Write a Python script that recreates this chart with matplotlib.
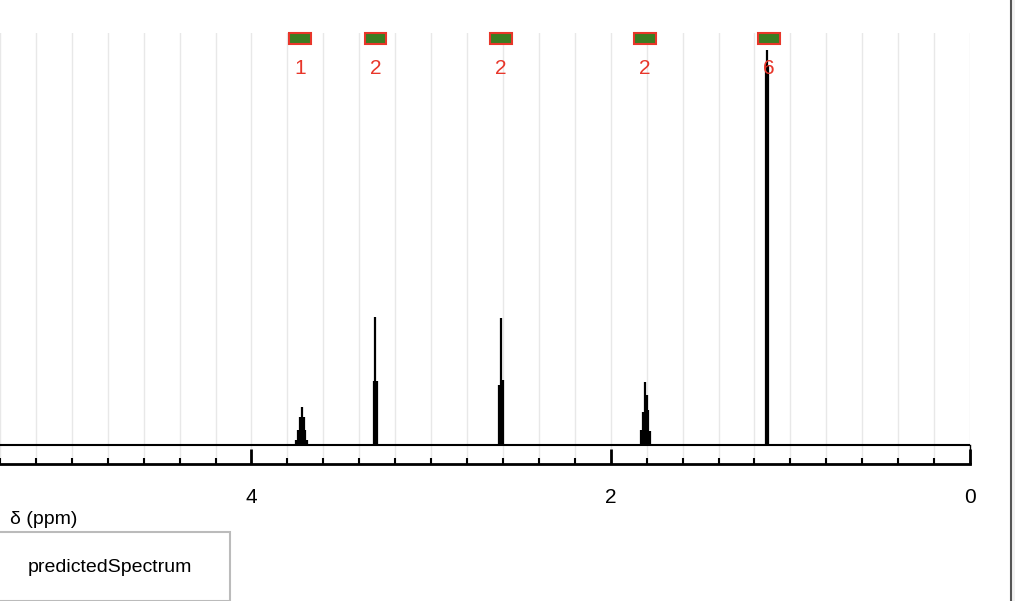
import matplotlib.pyplot as plt
from matplotlib.patches import Rectangle

plt.rcParams["font.family"] = ["Liberation Sans", "DejaVu Sans"]

# multiplet line positions (ppm) and intensities
line_ppm = [3.750, 3.740, 3.730, 3.720, 3.710, 3.700, 3.690,
            3.318, 3.310, 3.302,
            2.622, 2.612, 2.602,
            1.830, 1.820, 1.810, 1.800, 1.790, 1.780,
            1.134, 1.128, 1.122]
line_int = [5, 15, 28, 38, 28, 15, 5,
            64, 128, 64,
            60, 127, 65,
            15, 33, 63, 50, 35, 14,
            380, 395, 380]

# integration labels
integ_ppm = [3.73, 3.31, 2.61, 1.81, 1.12]
integ_val = ["1", "2", "2", "2", "6"]

fig = plt.figure(figsize=(10.15, 6.01), dpi=100)
ax = fig.add_axes([0, 137 / 601, 970 / 1015, (464 - 33) / 601])
ax.set_xlim(970 / 180, 0)
ax.set_ylim(-19, 412)

for x in [i * 0.2 for i in range(28)]:
    ax.axvline(x, color="#e8e8e8", lw=1, zorder=0)

ax.axhline(0, color="black", lw=1.5, zorder=3)
ax.vlines(line_ppm, 0, line_int, color="black", lw=1.6, zorder=4)

for p, v in zip(integ_ppm, integ_val):
    ax.add_patch(Rectangle((p + 0.06, 401), -0.12, 11, facecolor="#3a7d22",
                           edgecolor="#e8362a", lw=1.5, zorder=5, clip_on=False))
    ax.text(p, 377, v, color="#e8362a", fontsize=15, ha="center", va="center", zorder=6)

for s in ["top", "left"]:
    ax.spines[s].set_visible(False)
ax.spines["bottom"].set_linewidth(2)
ax.spines["right"].set_bounds(-19, 0)
ax.spines["right"].set_linewidth(1)
ax.set_yticks([])
ax.set_xticks([4, 2, 0])
ax.set_xticks([i * 0.2 for i in range(28)], minor=True)
ax.tick_params(axis="x", which="major", direction="in", length=11, width=2, labelsize=15, pad=17)
ax.tick_params(axis="x", which="minor", direction="in", length=4, width=1.5)

fig.text(10 / 1015, 1 - 519 / 601, "δ (ppm)", fontsize=14, va="center")
fig.patches.append(Rectangle((-2 / 1015, 0), 232 / 1015, 69 / 601, transform=fig.transFigure,
                             facecolor="white", edgecolor="#bbbbbb", lw=1.5))
fig.text(110 / 1015, 1 - 567 / 601, "predictedSpectrum", fontsize=14, ha="center", va="center")
fig.patches.append(Rectangle((1011 / 1015, 0), 4 / 1015, 1, transform=fig.transFigure,
                             facecolor="#f2f2f2", edgecolor="none"))
fig.lines.append(plt.Line2D([1011 / 1015] * 2, [0, 1], transform=fig.transFigure,
                            color="#555555", lw=1.5))

fig.savefig("out.png", dpi=100)
